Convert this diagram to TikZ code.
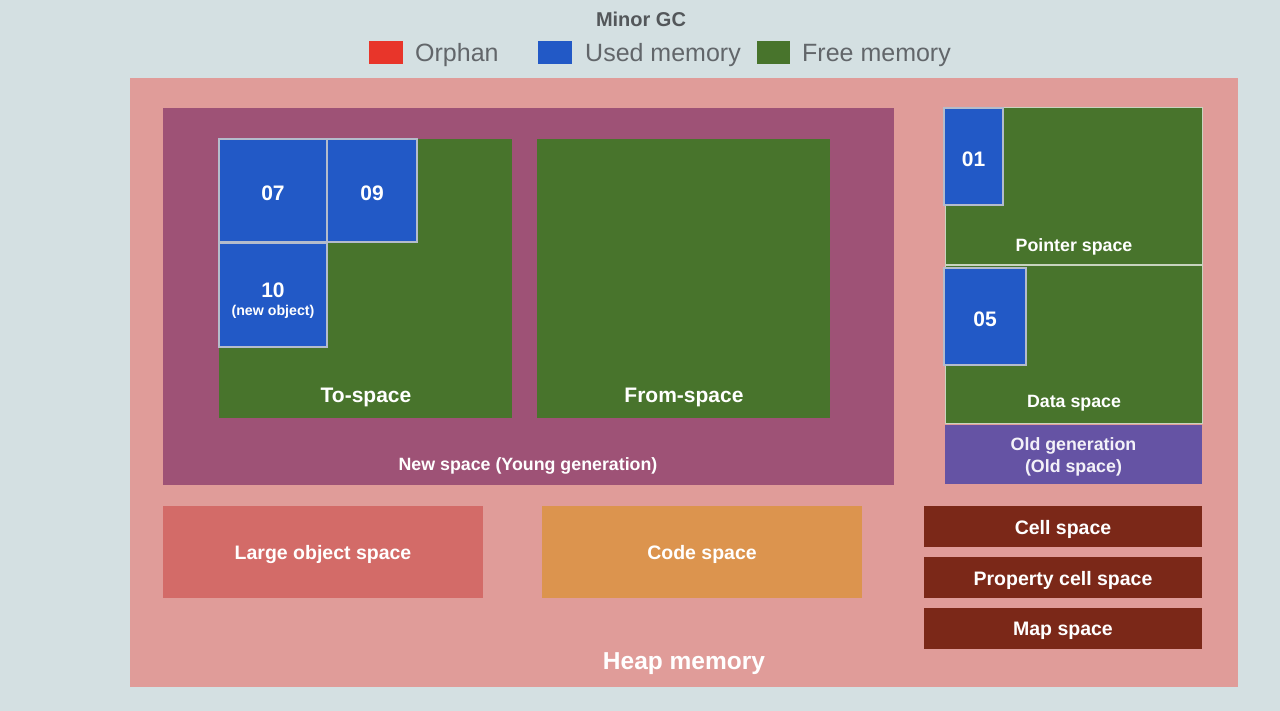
\documentclass[tikz,border=0pt]{standalone}
\usepackage{fontspec}
\setmainfont{Liberation Sans}
\definecolor{bgc}{HTML}{D4E0E2}
\definecolor{heapc}{HTML}{E09C99}
\definecolor{newc}{HTML}{9E5276}
\definecolor{freec}{HTML}{48742C}
\definecolor{usedc}{HTML}{2259C6}
\definecolor{orphc}{HTML}{E8352A}
\definecolor{oldc}{HTML}{6553A4}
\definecolor{largec}{HTML}{D36B68}
\definecolor{codec}{HTML}{DC944E}
\definecolor{cellc}{HTML}{7B2818}
\definecolor{legc}{HTML}{62666A}
\definecolor{edgec}{HTML}{B4BCCC}
\definecolor{gedgec}{HTML}{C8D4C0}
\newcommand\blk[6]{\node[#6, minimum width={#4-#2}, minimum height={#5-#3}] (#1) at ({(#2+#4)/2},{(#3+#5)/2}) {};}
\tikzset{
  box/.style={inner sep=0pt, outer sep=0pt, draw=none},
  usedbox/.style={box, fill=usedc, draw=edgec, line width=1.2pt},
  freebox/.style={box, fill=freec},
  freeedge/.style={box, fill=freec, draw=gedgec, line width=1pt},
  lbl/.style={text=white, font=\bfseries, inner sep=0pt, align=center, yshift=-2.5pt},
  leg/.style={text=legc, font=\fontsize{25}{28}\selectfont, inner sep=0pt, anchor=west, yshift=-2.5pt},
}
\begin{document}
\begin{tikzpicture}[x=1pt,y=-1pt]
\useasboundingbox (0,0) rectangle (1280,711);
\fill[bgc] (0,0) rectangle (1280,711);
% title and legend
\node[text=legc!85!black, font=\bfseries\fontsize{20}{22}\selectfont, inner sep=0pt, yshift=-1pt] (title) at (641,18) {Minor GC};
\blk{lorph}{369}{41}{403}{64}{box, fill=orphc}
\node[leg] (torph) at (415,53) {Orphan};
\blk{lused}{538}{41}{572}{64}{box, fill=usedc}
\node[leg] (tused) at (585,53) {Used memory};
\blk{lfree}{757}{41}{790}{64}{box, fill=freec}
\node[leg] (tfree) at (802,53) {Free memory};
% heap
\blk{heap}{130}{78}{1238}{687}{box, fill=heapc}
\node[lbl, font=\bfseries\fontsize{24.5}{28}\selectfont] (heaplbl) at (684,661) {Heap memory};
% new space
\blk{newsp}{163}{108}{894}{485}{box, fill=newc}
\node[lbl, font=\bfseries\fontsize{17.8}{20}\selectfont] (newlbl) at (528,463) {New space (Young generation)};
\blk{tosp}{219}{139}{512}{418}{freebox}
\node[lbl, font=\bfseries\fontsize{21}{24}\selectfont] (tolbl) at (366,395) {To-space};
\blk{fromsp}{537}{139}{830}{418}{freebox}
\node[lbl, font=\bfseries\fontsize{21}{24}\selectfont] (fromlbl) at (684,395) {From-space};
\blk{o07}{219}{139}{327}{242}{usedbox}
\node[lbl, font=\bfseries\fontsize{21}{24}\selectfont] (t07) at (o07) {07};
\blk{o09}{327}{139}{417}{242}{usedbox}
\node[lbl, font=\bfseries\fontsize{21}{24}\selectfont] (t09) at (o09) {09};
\blk{o10}{219}{243}{327}{347}{usedbox}
\node[lbl, font=\bfseries\fontsize{21}{24}\selectfont] (t10) at (273,288) {10};
\node[lbl, font=\bfseries\fontsize{14.2}{16}\selectfont] (t10b) at (273,309) {(new object)};
% right column
\blk{ptrsp}{945}{108}{1202}{265}{freeedge}
\node[lbl, font=\bfseries\fontsize{17.8}{20}\selectfont] (ptrlbl) at (1074,244) {Pointer space};
\blk{o01}{944}{108}{1003}{205}{usedbox}
\node[lbl, font=\bfseries\fontsize{21}{24}\selectfont] (t01) at (o01) {01};
\blk{datasp}{945}{266}{1202}{423}{freeedge}
\node[lbl, font=\bfseries\fontsize{17.8}{20}\selectfont] (datalbl) at (1074,401) {Data space};
\blk{o05}{944}{268}{1026}{365}{usedbox}
\node[lbl, font=\bfseries\fontsize{21}{24}\selectfont] (t05) at (o05) {05};
\blk{oldgen}{945}{425}{1202}{484}{box, fill=oldc}
\node[lbl, font=\bfseries\fontsize{17.8}{22}\selectfont, text=white!92!oldc] (oldlbl) at (oldgen) {Old generation\\(Old space)};
% bottom row
\blk{large}{163}{506}{483}{598}{box, fill=largec}
\node[lbl, font=\bfseries\fontsize{19.5}{22}\selectfont] (largelbl) at (large) {Large object space};
\blk{code}{542}{506}{862}{598}{box, fill=codec}
\node[lbl, font=\bfseries\fontsize{19.5}{22}\selectfont] (codelbl) at (code) {Code space};
\blk{cell}{924}{506}{1202}{547}{box, fill=cellc}
\node[lbl, font=\bfseries\fontsize{19.5}{22}\selectfont] (celllbl) at (cell) {Cell space};
\blk{pcell}{924}{557}{1202}{598}{box, fill=cellc}
\node[lbl, font=\bfseries\fontsize{19.5}{22}\selectfont] (pcelllbl) at (pcell) {Property cell space};
\blk{map}{924}{608}{1202}{649}{box, fill=cellc}
\node[lbl, font=\bfseries\fontsize{19.5}{22}\selectfont] (maplbl) at (map) {Map space};
\end{tikzpicture}
\end{document}
